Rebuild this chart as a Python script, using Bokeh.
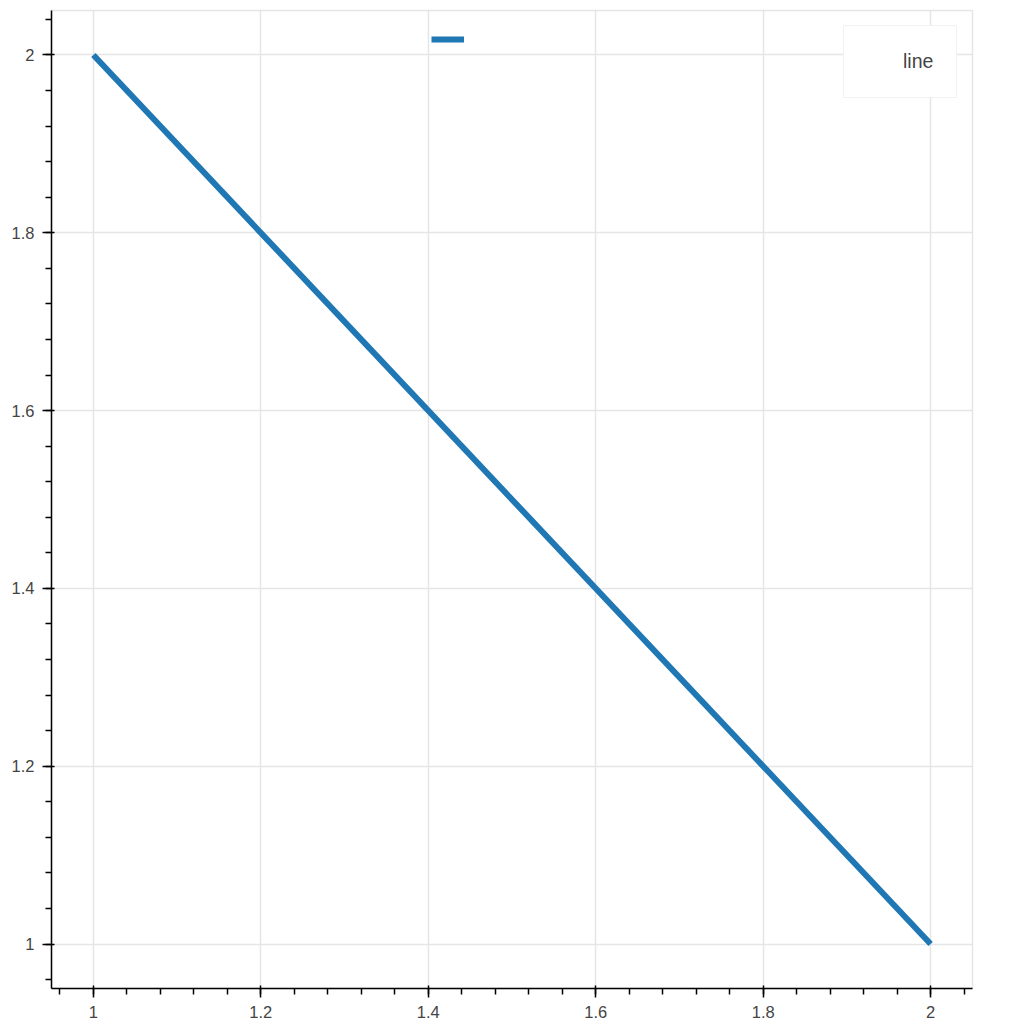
from bokeh.plotting import figure
from bokeh.embed import file_html
from bokeh.resources import INLINE
from bokeh.models import Legend, LegendItem

xs = [1, 2]
ys = [2, 1]
label = "line"

p = figure(width=977, height=1020, output_backend="svg", toolbar_location=None,
           min_border_left=51, min_border_top=10, min_border_right=5, min_border_bottom=0)

r = p.line(xs, ys, line_width=6, color="#1f77b4")
r_hidden = p.line(xs, ys, line_width=6, color="#1f77b4", line_alpha=0)

for ax in (p.xaxis[0], p.yaxis[0]):
    ax.major_label_text_font_size = "16.5px"
    ax.major_tick_out = 9
    ax.major_tick_in = 3
    ax.minor_tick_out = 6
    ax.minor_tick_in = 0
    ax.axis_line_width = 1.5
    ax.major_tick_line_width = 1.5
    ax.minor_tick_line_width = 1.5
    ax.major_label_standoff = 8
    ax.major_label_text_color = "#444444"

p.xgrid.grid_line_width = 1.5
p.ygrid.grid_line_width = 1.5
p.outline_line_width = 1.5

legend = Legend(items=[LegendItem(label=label, renderers=[r_hidden])],
                location="top_right",
                label_text_font_size="19.5px",
                label_text_color="#444444",
                glyph_width=30, glyph_height=41,
                label_standoff=14, padding=15, margin=15,
                spacing=5, border_line_width=1.5, border_line_color="#e5e5e5",
                label_width=38, label_height=41)
p.add_layout(legend)

legend2 = Legend(items=[LegendItem(label="", renderers=[r])],
                 location=(380, 944),
                 glyph_width=33, glyph_height=10,
                 label_width=0, label_height=10, label_standoff=0,
                 padding=0, margin=0,
                 border_line_alpha=0, background_fill_alpha=0,
                 label_text_font_size="1px")
p.add_layout(legend2)

open("out.html", "w").write(file_html(p, INLINE))
